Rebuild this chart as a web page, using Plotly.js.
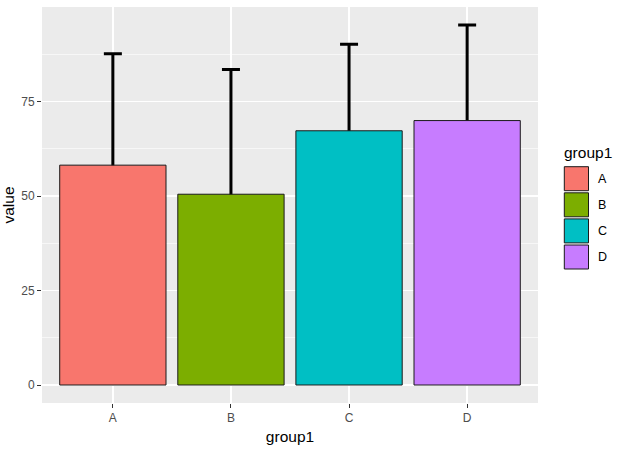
<!DOCTYPE html>
<html><head><meta charset="utf-8">
<script src="https://cdn.plot.ly/plotly-3.0.1.min.js"></script>
<style>html,body{margin:0;padding:0;background:#fff}#chart{width:622px;height:451px}</style>
</head><body><div id="chart"></div>
<script>
// ---- data ----
const categories = ['A', 'B', 'C', 'D'];
const values = [58.2, 50.5, 67.3, 70.0];
const errors = [29.5, 33.0, 22.9, 25.3];
const colors = ['#F8766D', '#7CAE00', '#00BFC4', '#C77CFF'];
const yTickVals = [0, 25, 50, 75];
const yTickText = ['0', '25', '50', '75'];
const legendTitle = 'group1';
const xTitle = 'group1';
const yTitle = 'value';

// ---- layout helpers ----
const W = 622, H = 451, M = {l: 42, r: 84, t: 7, b: 48};
const pw = W - M.l - M.r, ph = H - M.t - M.b;
const px2x = p => (p - M.l) / pw;
const px2y = p => (H - M.b - p) / ph;

const ymax = Math.max(...values.map((v, i) => v + errors[i]));
const yRange = [-0.05 * ymax, ymax * 1.05];

const font = 'Liberation Sans, Arial, sans-serif';

// error bars drawn first (underneath the filled bars, like ggplot layer order)
const errTrace = {
  type: 'bar', x: categories, y: values, width: 0.9,
  marker: {color: 'rgba(0,0,0,0)', line: {width: 0}},
  error_y: {type: 'data', array: errors, symmetric: true, color: '#000', thickness: 3, width: 9},
  showlegend: false, hoverinfo: 'skip'
};
const barTrace = {
  type: 'bar', x: categories, y: values, width: 0.9,
  marker: {color: colors, line: {color: '#1a1a1a', width: 1}},
  showlegend: false
};

// manual ggplot-style legend
const shapes = [], annotations = [];
const keyTop0 = 166.7, keyStep = 26.1, keyH = 24, keyX0 = 564.3, keyX1 = 588.5;
categories.forEach((c, i) => {
  const t = keyTop0 + i * keyStep;
  shapes.push({type: 'rect', xref: 'paper', yref: 'paper',
    x0: px2x(keyX0), x1: px2x(keyX1), y0: px2y(t + keyH), y1: px2y(t),
    fillcolor: colors[i], line: {color: '#1a1a1a', width: 1}});
  annotations.push({xref: 'paper', yref: 'paper', x: px2x(596), y: px2y(t + keyH / 2),
    xanchor: 'left', yanchor: 'middle', text: c, showarrow: false,
    font: {family: font, size: 12.5, color: '#000'}});
});
annotations.push({xref: 'paper', yref: 'paper', x: px2x(562), y: px2y(152.5),
  xanchor: 'left', yanchor: 'middle', text: legendTitle, showarrow: false,
  font: {family: font, size: 15.5, color: '#000'}});

const layout = {
  width: W, height: H,
  margin: M,
  paper_bgcolor: '#fff', plot_bgcolor: '#EBEBEB',
  barmode: 'overlay',
  showlegend: false,
  font: {family: font},
  xaxis: {
    type: 'category', range: [-0.6, 3.6],
    showgrid: true, gridcolor: '#fff', gridwidth: 1.3,
    ticks: 'outside', ticklen: 4, tickwidth: 1, tickcolor: '#333',
    tickfont: {family: font, size: 12, color: '#4D4D4D'},
    showline: false, zeroline: false,
    title: {text: xTitle, font: {family: font, size: 15.5, color: '#000'}, standoff: 6}
  },
  yaxis: {
    range: yRange, tickvals: yTickVals, ticktext: yTickText,
    showgrid: true, gridcolor: '#fff', gridwidth: 1.3,
    minor: {dtick: 12.5, tick0: 0, showgrid: true, gridcolor: '#fff', gridwidth: 0.6, ticks: ''},
    ticks: 'outside', ticklen: 4, tickwidth: 1, tickcolor: '#333',
    tickfont: {family: font, size: 12, color: '#4D4D4D'},
    showline: false, zeroline: false,
    title: {text: yTitle, font: {family: font, size: 15.5, color: '#000'}, standoff: 4}
  },
  shapes: shapes,
  annotations: annotations
};

Plotly.newPlot('chart', [errTrace, barTrace], layout, {staticPlot: true, displayModeBar: false});
</script>
</body></html>
